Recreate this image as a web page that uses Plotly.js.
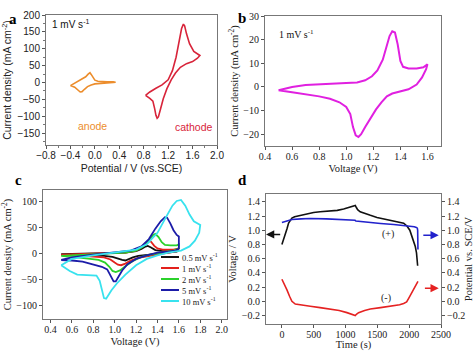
<!DOCTYPE html>
<html><head><meta charset="utf-8">
<script src="https://cdn.plot.ly/plotly-3.0.1.min.js"></script>
<style>html,body{margin:0;padding:0;background:#fff}#chart{width:474px;height:351px}</style>
</head><body><div id="chart"></div>
<script>
// ---------- Panel a: CV of anode / cathode (1 mV/s) ----------
const anodeV = [-0.40,-0.35,-0.30,-0.25,-0.20,-0.15,-0.11,-0.08,-0.06,-0.03,0.00,0.05,0.10,0.20,0.30,0.34,0.30,0.20,0.10,0.00,-0.06,-0.12,-0.17,-0.21,-0.24,-0.28,-0.33,-0.40];
const anodeI = [-9,-4,1,6,10,17,25,29,24,13,7,4,3,2,2,1,0,-1,-2,-4,-7,-12,-20,-27,-28,-22,-14,-9];
const cathV = [0.83,0.90,1.00,1.10,1.20,1.27,1.33,1.38,1.42,1.45,1.47,1.50,1.55,1.62,1.68,1.72,1.68,1.60,1.50,1.40,1.32,1.25,1.18,1.12,1.07,1.04,1.02,1.00,0.98,0.95,0.90,0.83];
const cathI = [-38,-28,-17,-7,8,35,75,125,160,173,168,145,115,92,84,80,72,62,56,45,28,8,-18,-48,-82,-102,-106,-97,-78,-55,-47,-38];

// ---------- Panel b: full cell CV (1 mV/s) ----------
const cellV = [0.50,0.60,0.70,0.80,0.90,1.00,1.08,1.14,1.19,1.23,1.27,1.30,1.32,1.34,1.36,1.38,1.40,1.42,1.46,1.52,1.57,1.60,1.59,1.56,1.52,1.46,1.40,1.34,1.30,1.26,1.22,1.18,1.14,1.11,1.09,1.07,1.05,1.03,1.00,0.95,0.88,0.80,0.70,0.60,0.50];
const cellI = [-1.4,0.0,0.8,1.2,1.5,1.7,1.9,2.8,4.5,7.0,11.5,17.5,21.5,23.5,23.0,18.0,11.0,8.5,7.8,7.8,8.3,9.6,7.5,4.0,1.0,-1.0,-2.0,-2.8,-4.0,-6.5,-9.5,-13.0,-17.0,-20.0,-21.2,-20.5,-17.0,-11.5,-8.5,-6.5,-5.0,-4.0,-3.0,-2.3,-1.4];

// ---------- Panel c: CV at different scan rates ----------
const scanLabels = ['0.5 mV s<sup>-1</sup>','1 mV s<sup>-1</sup>','2 mV s<sup>-1</sup>','5 mV s<sup>-1</sup>','10 mV s<sup>-1</sup>'];
const c05V = [0.5,0.7,0.9,1.1,1.2,1.25,1.28,1.31,1.34,1.38,1.45,1.55,1.6,1.58,1.5,1.4,1.3,1.22,1.17,1.13,1.10,1.07,1.03,0.98,0.9,0.8,0.7,0.6,0.5];
const c05I = [-1,0,1,2,5,9,13,15,12,7,5,5,7,4,2,0,-2,-4,-7,-11,-13,-12,-9,-6,-4,-3,-2,-1.5,-1];
const c1V = [0.5,0.7,0.9,1.1,1.2,1.25,1.29,1.32,1.34,1.37,1.4,1.45,1.55,1.6,1.58,1.5,1.4,1.3,1.22,1.15,1.10,1.06,1.03,1.00,0.96,0.9,0.8,0.7,0.6,0.5];
const c1I = [-2,-1,0,2,6,12,20,24,23,15,10,8,8,10,5,2,-1,-4,-8,-13,-19,-22,-21,-17,-11,-7,-5,-4,-3,-2];
const c2V = [0.5,0.7,0.9,1.1,1.2,1.27,1.32,1.36,1.38,1.41,1.44,1.47,1.52,1.58,1.6,1.6,1.55,1.45,1.35,1.25,1.17,1.10,1.05,1.01,0.98,0.95,0.91,0.85,0.75,0.65,0.5];
const c2I = [-4,-2,0,2,6,14,26,36,38,32,22,17,16,16,18,10,6,3,-1,-6,-14,-24,-32,-35,-33,-25,-17,-12,-9,-7,-4];
const c5V = [0.5,0.6,0.8,1.0,1.15,1.25,1.32,1.38,1.43,1.47,1.49,1.52,1.55,1.58,1.6,1.6,1.57,1.5,1.4,1.3,1.2,1.12,1.07,1.03,1.01,0.99,0.96,0.93,0.88,0.8,0.7,0.6,0.5];
const c5I = [-12,-7,-2,2,6,14,28,48,62,70,69,58,45,36,33,10,6,4,2,-3,-10,-20,-32,-46,-53,-53,-42,-30,-25,-21,-15,-13,-12];
const c10V = [0.5,0.6,0.8,1.0,1.2,1.3,1.4,1.48,1.54,1.58,1.62,1.66,1.70,1.74,1.78,1.80,1.79,1.75,1.70,1.62,1.5,1.4,1.3,1.2,1.1,1.02,0.97,0.94,0.92,0.90,0.88,0.86,0.83,0.75,0.65,0.58,0.5];
const c10I = [-22,-10,-3,2,8,18,40,70,92,101,103,92,75,62,58,55,40,25,14,6,2,-3,-10,-22,-40,-57,-70,-80,-86,-85,-70,-52,-42,-41,-40,-33,-22];

// ---------- Panel d: charge / discharge ----------
const tCell = [0,25,52,80,105,130,157,200,288,400,498,600,760,870,970,1050,1100,1153,1170,1190,1230,1284,1390,1494,1600,1756,1850,1913,1965,2010,2044,2070,2096,2115,2123,2133];
const vCell = [0.80,0.86,0.93,1.02,1.10,1.14,1.17,1.19,1.21,1.23,1.25,1.26,1.27,1.28,1.30,1.32,1.34,1.35,1.32,1.29,1.26,1.24,1.21,1.18,1.16,1.13,1.11,1.10,1.06,1.00,0.91,0.84,0.77,0.68,0.60,0.50];
const tPos = [0,80,157,300,445,700,900,1127,1150,1163,1250,1389,1550,1756,1900,2018,2080,2112,2128,2133,2136,2138];
const vPos = [1.11,1.13,1.15,1.16,1.165,1.16,1.155,1.15,1.14,1.13,1.12,1.105,1.095,1.08,1.07,1.06,1.05,1.04,1.03,1.0,0.85,0.73];
const tNeg = [0,40,79,120,157,210,300,445,600,760,900,1022,1100,1153,1175,1205,1300,1389,1550,1756,1850,1913,1960,1992,2030,2070,2110,2138];
const vNeg = [0.31,0.24,0.16,0.07,0.00,-0.04,-0.055,-0.07,-0.09,-0.11,-0.13,-0.16,-0.18,-0.20,-0.18,-0.16,-0.13,-0.11,-0.09,-0.065,-0.05,-0.03,-0.01,0.04,0.10,0.16,0.22,0.28];

// ---------- styling ----------
const W = 474, H = 351;
const SANS = 'Liberation Sans, Arial, sans-serif';
const SERIF = 'Liberation Serif, Times New Roman, serif';
const px = (a,b) => [a/W, b/W];
const py = (top,bottom) => [1-bottom/H, 1-top/H];
const scanColors = ['#111111','#e3201c','#2bd12b','#1c1ca8','#38e2ee'];

function ax(extra, font) {
  return Object.assign({
    showgrid:false, zeroline:false, showline:true, mirror:true, linecolor:'#777', linewidth:1,
    ticks:'outside', ticklen:3, tickcolor:'#555', tickwidth:1,
    tickfont:{family:font, size:10, color:'#222'},
  }, extra);
}

const traces = [
  {x:anodeV, y:anodeI, xaxis:'x', yaxis:'y', mode:'lines', line:{color:'#ec8d2c', width:1.6}},
  {x:cathV, y:cathI, xaxis:'x', yaxis:'y', mode:'lines', line:{color:'#d8243a', width:1.6}},
  {x:cellV, y:cellI, xaxis:'x2', yaxis:'y2', mode:'lines', line:{color:'#e020e0', width:2}},
  {x:c05V, y:c05I, xaxis:'x3', yaxis:'y3', mode:'lines', line:{color:scanColors[0], width:1.8}},
  {x:c1V, y:c1I, xaxis:'x3', yaxis:'y3', mode:'lines', line:{color:scanColors[1], width:1.8}},
  {x:c2V, y:c2I, xaxis:'x3', yaxis:'y3', mode:'lines', line:{color:scanColors[2], width:1.8}},
  {x:c5V, y:c5I, xaxis:'x3', yaxis:'y3', mode:'lines', line:{color:scanColors[3], width:1.8}},
  {x:c10V, y:c10I, xaxis:'x3', yaxis:'y3', mode:'lines', line:{color:scanColors[4], width:1.8}},
  {x:tCell, y:vCell, xaxis:'x4', yaxis:'y4', mode:'lines', line:{color:'#111', width:1.6}},
  {x:tPos, y:vPos, xaxis:'x4', yaxis:'y5', mode:'lines', line:{color:'#2222cc', width:1.6}},
  {x:tNeg, y:vNeg, xaxis:'x4', yaxis:'y5', mode:'lines', line:{color:'#e52222', width:1.6}},
];

const ttl = (t, f, s) => ({text:t, font:{family:f, size:10.5, color:'#222'}, standoff:s});

const annotations = [
  {text:'<b>a</b>', xref:'paper', yref:'paper', x:7/W, y:1-9/H, showarrow:false, font:{family:SERIF, size:15, color:'#000'}},
  {text:'<b>b</b>', xref:'paper', yref:'paper', x:242/W, y:1-8/H, showarrow:false, font:{family:SERIF, size:15, color:'#000'}},
  {text:'<b>c</b>', xref:'paper', yref:'paper', x:13/W, y:1-180/H, showarrow:false, font:{family:SERIF, size:15, color:'#000'}},
  {text:'<b>d</b>', xref:'paper', yref:'paper', x:242/W, y:1-180/H, showarrow:false, font:{family:SERIF, size:15, color:'#000'}},
  {text:'1 mV s<sup>-1</sup>', xref:'x', yref:'y', x:-0.73, y:173, xanchor:'left', showarrow:false, font:{family:SANS, size:10, color:'#111'}},
  {text:'anode', xref:'x', yref:'y', x:-0.04, y:-130, showarrow:false, font:{family:SANS, size:10.5, color:'#ec8d2c'}},
  {text:'cathode', xref:'x', yref:'y', x:1.62, y:-133, showarrow:false, font:{family:SANS, size:10.5, color:'#d8243a'}},
  {text:'1 mV s<sup>-1</sup>', xref:'x2', yref:'y2', x:0.49, y:22.4, xanchor:'left', showarrow:false, font:{family:SERIF, size:10, color:'#111'}},
  {text:'(+)', xref:'x4', yref:'y4', x:1667, y:0.95, showarrow:false, font:{family:SERIF, size:10, color:'#222'}},
  {text:'(-)', xref:'x4', yref:'y4', x:1635, y:0.045, showarrow:false, font:{family:SERIF, size:10, color:'#222'}},
  {text:' ', xref:'x4', yref:'y4', x:-250, y:0.94, axref:'x4', ayref:'y4', ax:20, ay:0.94, showarrow:true, arrowhead:2, arrowsize:1.1, arrowwidth:1.5, arrowcolor:'#111'},
  {text:' ', xref:'x4', yref:'y4', x:2465, y:0.93, axref:'x4', ayref:'y4', ax:2175, ay:0.93, showarrow:true, arrowhead:2, arrowsize:1.1, arrowwidth:1.5, arrowcolor:'#2222cc'},
  {text:' ', xref:'x4', yref:'y4', x:2465, y:0.185, axref:'x4', ayref:'y4', ax:2200, ay:0.185, showarrow:true, arrowhead:2, arrowsize:1.1, arrowwidth:1.5, arrowcolor:'#e52222'},
];

// manual compact legend for panel c
const shapes = [];
const legRows = [257, 268, 279, 290, 301];
scanLabels.forEach((lab, i) => {
  shapes.push({type:'line', xref:'paper', yref:'paper', x0:161/W, x1:179/W, y0:1-legRows[i]/H, y1:1-legRows[i]/H, line:{color:scanColors[i], width:2}});
  annotations.push({text:lab, xref:'paper', yref:'paper', x:180/W, y:1-legRows[i]/H, xanchor:'left', yanchor:'middle', showarrow:false, font:{family:SERIF, size:8.5, color:'#222'}});
});

const layout = {
  width:W, height:H, margin:{l:0,r:0,t:0,b:0}, showlegend:false,
  paper_bgcolor:'#fff', plot_bgcolor:'#fff',
  xaxis: ax({domain:px(46,217), anchor:'y', range:[-0.8,2.0], tick0:-0.8, dtick:0.4, tickformat:'.1f', ticklabelstandoff:-2,
             minor:{ticks:'outside', ticklen:2, dtick:0.2, tickcolor:'#777'}, title:ttl('Potential / V (vs.SCE)', SANS, 4)}, SANS),
  yaxis: ax({domain:py(15,145), anchor:'x', range:[-185,200], dtick:50,
             minor:{ticks:'outside', ticklen:2, dtick:25, tickcolor:'#777'}, title:ttl('Current density (mA cm<sup>-2</sup>)', SANS, 4)}, SANS),
  xaxis2: ax({domain:px(265,441), anchor:'y2', range:[0.4,1.7], dtick:0.2, tick0:0.4, tickformat:'.1f', ticklabelstandoff:-2,
             title:ttl('Voltage (V)', SERIF, 3)}, SERIF),
  yaxis2: ax({domain:py(16,146), anchor:'x2', range:[-25,30], dtick:10,
             title:ttl('Current density (mA cm<sup>-2</sup>)', SERIF, 2)}, SERIF),
  xaxis3: ax({domain:px(43,227), anchor:'y3', range:[0.33,2.05], dtick:0.2, tick0:0.4, tickformat:'.1f', ticklabelstandoff:-2,
             title:ttl('Voltage (V)', SERIF, 3)}, SERIF),
  yaxis3: ax({domain:py(190,319), anchor:'x3', range:[-125,122], dtick:50,
             title:ttl('Current density (mA cm<sup>-2</sup>)', SERIF, 3)}, SERIF),
  xaxis4: ax({domain:px(266,441), anchor:'y4', range:[-250,2500], dtick:500, tick0:0, ticklabelstandoff:-2,
             title:ttl('Time (s)', SERIF, 3)}, SERIF),
  yaxis4: ax({domain:py(194,324), anchor:'x4', range:[-0.32,1.51], dtick:0.2, tick0:0, tickformat:'.1f',
             title:ttl('Voltage / V', SERIF, 3)}, SERIF),
  yaxis5: ax({overlaying:'y4', side:'right', anchor:'x4', range:[-0.32,1.51], dtick:0.2, tick0:0, tickformat:'.1f', mirror:false,
             title:ttl('Potential vs. SCE/V', SERIF, 3)}, SERIF),
  annotations, shapes,
};

Plotly.newPlot('chart', traces, layout, {staticPlot:true, displayModeBar:false});
</script></body></html>
